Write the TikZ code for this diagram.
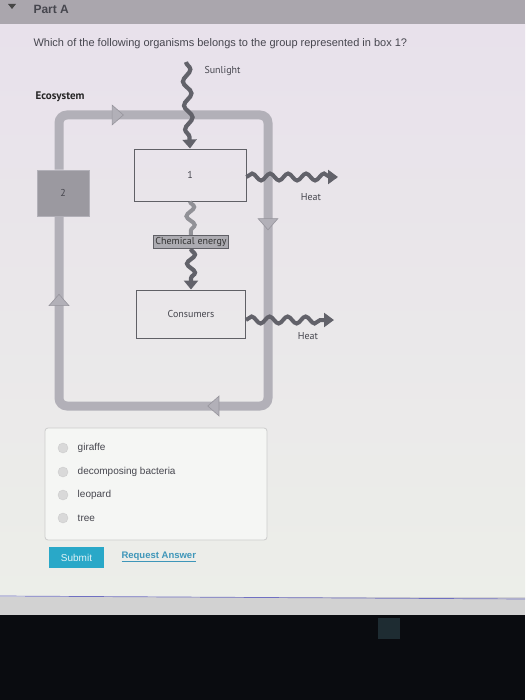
\documentclass[tikz,border=0pt]{standalone}
\usepackage{fontspec}
\setmainfont{Liberation Sans}
\newfontfamily\diagfont{PT Sans}
\usepackage{tikz}
\usetikzlibrary{arrows.meta, positioning, calc, decorations.pathmorphing, decorations.markings}
\definecolor{headgray}{RGB}{170, 166, 173}
\definecolor{bgtop}{RGB}{232, 225, 235}
\definecolor{bgbottom}{RGB}{236, 238, 233}
\definecolor{textgray}{RGB}{70, 70, 78}
\definecolor{bandgray}{RGB}{178, 176, 184}
\definecolor{bandedge}{RGB}{150, 148, 156}
\definecolor{boxgray}{RGB}{96, 96, 102}
\definecolor{cyclefill}{RGB}{155, 153, 160}
\definecolor{wavegray}{RGB}{98, 98, 106}
\definecolor{chemfill}{RGB}{172, 171, 177}
\definecolor{submitteal}{RGB}{41, 168, 200}
\definecolor{linkteal}{RGB}{62, 150, 185}
\definecolor{screenblack}{RGB}{10, 12, 16}
\definecolor{screenslate}{RGB}{30, 44, 50}
\tikzset{
  >=Stealth,
  organismbox/.style={draw=boxgray, line width=0.9pt, inner sep=0pt, font=\diagfont\fontsize{10}{12}\selectfont, text=textgray},
  cyclebox/.style={draw=bandgray, fill=cyclefill, line width=0.8pt, inner sep=0pt, font=\diagfont\fontsize{10}{12}\selectfont, text=textgray},
  chembox/.style={draw=boxgray, fill=chemfill, line width=0.8pt, inner sep=2pt, font=\diagfont\fontsize{10}{12}\selectfont, text=black!80},
  energywave/.style={draw=wavegray, line width=4.2pt, decorate, decoration={snake, amplitude=4pt, segment length=24pt, post length=8pt}, -{Triangle[length=9pt, width=14pt]}},
  lowerwave/.style={energywave, decoration={snake, amplitude=4pt, segment length=18pt, post length=8pt}},
  plainwave/.style={draw=wavegray!70, line width=4pt, decorate, decoration={snake, amplitude=4pt, segment length=18pt}},
  heatwave/.style={draw=wavegray, line width=4pt, decorate, decoration={snake, amplitude=3.5pt, segment length=18pt, post length=8pt}, -{Triangle[length=10pt, width=14pt]}},
  difflabel/.style={font=\diagfont\fontsize{10}{12}\selectfont, text=textgray},
  bandtip/.style={color=bandedge, line width=0.6pt},
  radiobtn/.style={circle, fill=gray!30, draw=gray!40, minimum size=10pt, inner sep=0pt},
  optionlabel/.style={anchor=west, font=\fontsize{10}{12}\selectfont, text=textgray}
}
\begin{document}
\begin{tikzpicture}[x=1pt, y=-1pt]
    \useasboundingbox (0,0) rectangle (525,700);
    \clip (0,0) rectangle (525,700);
    % screen background
    \shade[top color=bgtop, bottom color=bgbottom] (0,24) rectangle (525,597);
    \fill[headgray] (0,0) rectangle (525,24);
    \fill[gray!55!black] (8,4) -- (16,4) -- (12,9) -- cycle;
    \node[anchor=west, font=\fontsize{12}{14}\selectfont\bfseries, text=textgray] (parta) at (30,9) {Part A};
    \node[anchor=west, font=\fontsize{11}{13}\selectfont, text=textgray] (question) at (30,44) {Which of the following organisms belongs to the group represented in box 1?};

    % diagram
    \node[font=\diagfont\fontsize{11}{13}\selectfont\bfseries, text=black!85, anchor=west] (eco) at (32,97) {Ecosystem};
    \node[cyclebox, minimum width=52pt, minimum height=46pt] (box2) at (63,193) {2};
    \coordinate (tl) at (59,115);
    \coordinate (tr) at (268,115);
    \coordinate (br) at (268,406);
    \coordinate (bl) at (59,406);
    \draw[bandgray, line width=9pt, rounded corners=8pt,
        postaction={decorate, decoration={markings,
            mark=at position 116pt with {\arrow[bandtip]{Triangle[length=12pt, width=21pt, fill=bandgray]}},
            mark=at position 372pt with {\arrow[bandtip]{Triangle[length=12pt, width=21pt, fill=bandgray]}},
            mark=at position 605pt with {\arrow[bandtip]{Triangle[length=12pt, width=21pt, fill=bandgray]}},
            mark=at position 862pt with {\arrow[bandtip]{Triangle[length=12pt, width=21pt, fill=bandgray]}}}}]
        (box2.north -| tl) -- (tl) -- (tr) -- (br) -- (bl) -- (box2.south -| bl);
    \node[cyclebox, minimum width=52pt, minimum height=46pt] (box2) at (63,193) {2};

    \node[organismbox, minimum width=112pt, minimum height=52pt] (box1) at (190,175) {1};
    \node[chembox] (chem) at (191,242) {Chemical energy};
    \node[organismbox, minimum width=109pt, minimum height=48pt] (cons) at (191,314) {Consumers};

    \coordinate (sunstart) at (186,62);
    \node[difflabel, anchor=west] (sun) at (201,71) {Sunlight};
    \draw[energywave] (sunstart) -- (box1.north);
    \draw[plainwave] (box1.south) -- (chem.north);
    \draw[lowerwave] (chem.south) -- (cons.north);

    \coordinate (heat1end) at (338,177);
    \coordinate (heat2end) at (334,320);
    \draw[heatwave] ([yshift=-2pt]box1.east) -- (heat1end);
    \draw[heatwave] ([yshift=-6pt]cons.east) -- (heat2end);
    \node[difflabel] (heat1) at (311,197) {Heat};
    \node[difflabel] (heat2) at (308,336) {Heat};

    % answer choices
    \draw[gray!40, fill=white!50!bgbottom, rounded corners=3pt, line width=0.8pt] (45,428) rectangle (267,540);
    \node[radiobtn] (r1) at (63,448) {};
    \node[radiobtn] (r2) at (63,472) {};
    \node[radiobtn] (r3) at (63,495) {};
    \node[radiobtn] (r4) at (63,518) {};
    \node[optionlabel, right=6pt of r1] (o1) {giraffe};
    \node[optionlabel, right=6pt of r2] (o2) {decomposing bacteria};
    \node[optionlabel, right=6pt of r3] (o3) {leopard};
    \node[optionlabel, right=6pt of r4] (o4) {tree};
    \node[fill=submitteal, minimum width=55pt, minimum height=21pt, inner sep=0pt, font=\fontsize{10}{12}\selectfont, text=white!85!submitteal] (submit) at (76.5,557.5) {Submit};
    \node[anchor=west, font=\fontsize{9.5}{11}\selectfont\bfseries, text=linkteal] (request) at (118,557) {\underline{Request Answer}};

    % bottom of the screen
    \fill[gray!35] (0,597) rectangle (525,615);
    \draw[gray!60!blue!80, line width=0.7pt] (0,596) -- (525,599);
    \fill[screenblack] (0,615) rectangle (525,700);
    \fill[screenslate] (378,618) rectangle (400,639);
\end{tikzpicture}
\end{document}
